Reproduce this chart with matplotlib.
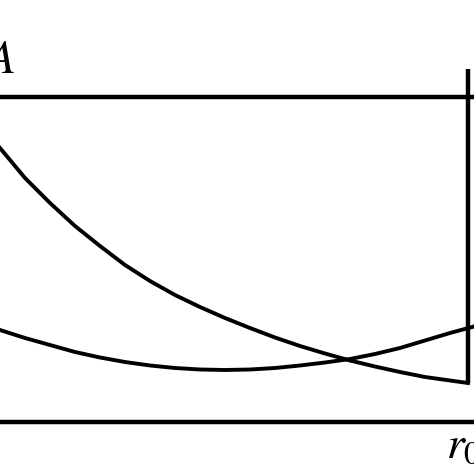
#!/usr/bin/env python3
"""
Schematic: two curves between a top line and a boundary at r0.
Coordinates are in image pixels (y grows downward).
"""

import matplotlib
matplotlib.use('Agg')
import matplotlib.pyplot as plt

plt.rcParams['mathtext.fontset'] = 'stix'

# ── Data ────────────────────────────────────────────────────
decay_x = [0, 25, 50, 75, 100, 125, 150, 175, 200, 225, 250,
           275, 300, 325, 350, 375, 400, 425, 450, 468]
decay_y = [148, 178, 203, 226, 246, 265, 281, 295, 307, 318, 328,
           337.5, 346, 353.5, 360.5, 366.5, 372, 377, 380.5, 383]

well_x = [0, 25, 50, 75, 100, 125, 150, 175, 200, 225, 250,
          275, 300, 325, 350, 375, 400, 425, 450, 474]
well_y = [330, 338, 345, 352, 357.5, 362, 365.5, 368, 369.5, 370, 369.5,
          368, 365.5, 362.5, 359, 354, 348, 340.5, 333, 326.5]

top_level = 97
bottom_level = 422
r0_pos = 468
r0_top = 69

# ── Plot ────────────────────────────────────────────────────
fig = plt.figure(figsize=(4.74, 4.74), dpi=100)
ax = fig.add_axes([0, 0, 1, 1])
ax.set_xlim(0, 474)
ax.set_ylim(474, 0)
ax.axis('off')

ax.axhline(top_level, color='black', lw=3.2, solid_capstyle='butt')
ax.axhline(bottom_level, color='black', lw=3.2, solid_capstyle='butt')
ax.plot([r0_pos, r0_pos], [r0_top, decay_y[-1]], color='black', lw=3.2,
        solid_capstyle='butt')

ax.plot(decay_x, decay_y, color='black', lw=2.8, solid_joinstyle='round')
ax.plot(well_x, well_y, color='black', lw=2.8, solid_joinstyle='round')

ax.text(-16, 73, '$A$', fontsize=34, ha='left', va='baseline')
ax.text(446, 458, '$r_0$', fontsize=33, ha='left', va='baseline')

fig.savefig('out.png', dpi=100, facecolor='white')
plt.close(fig)
